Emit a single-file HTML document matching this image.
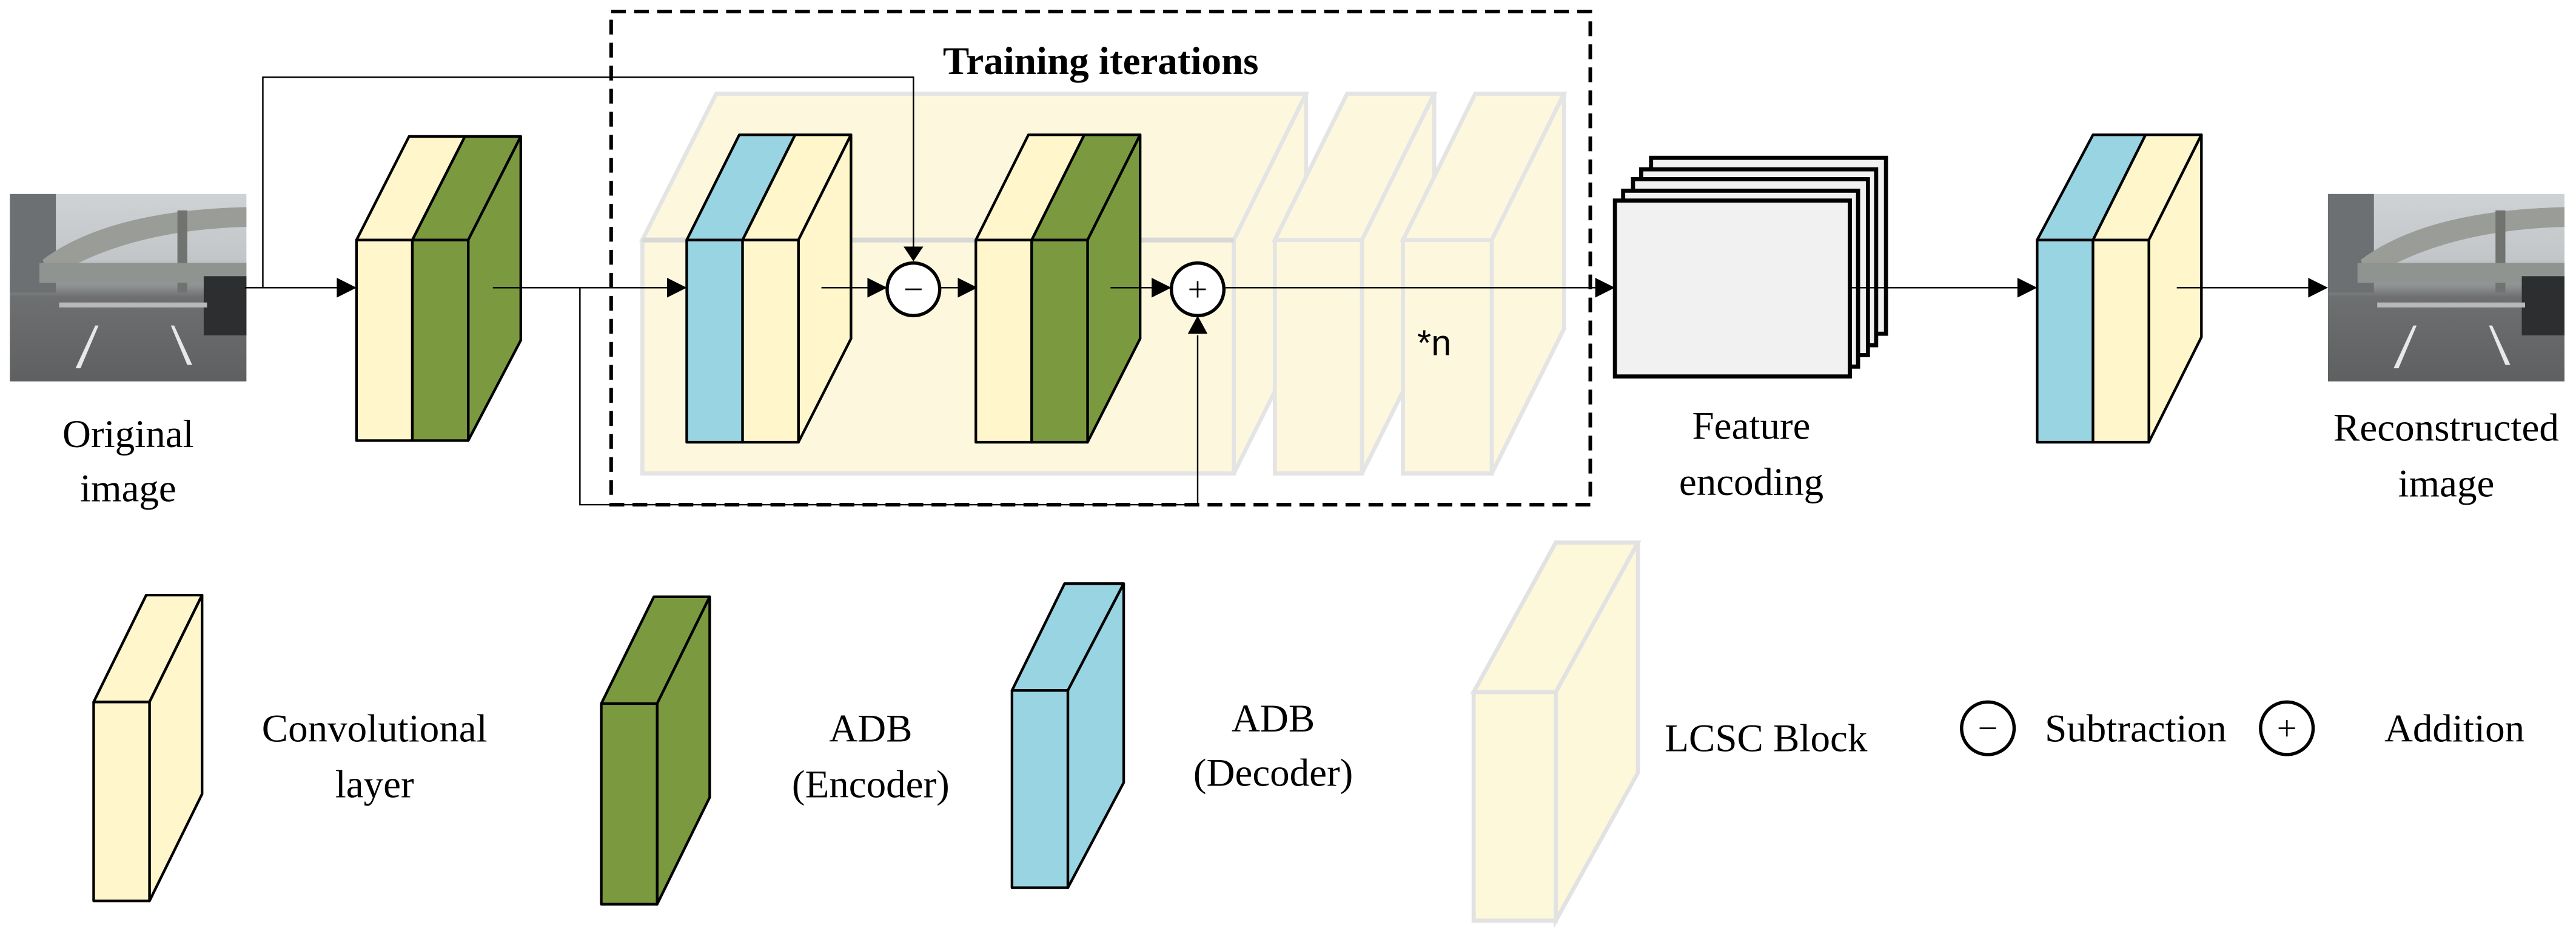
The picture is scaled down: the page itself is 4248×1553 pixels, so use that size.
<!DOCTYPE html>
<html><head><meta charset="utf-8"><style>
html,body{margin:0;padding:0;background:#fff;}
svg{display:block;}
text{font-family:"Liberation Serif",serif;fill:#000;}
</style></head><body>
<svg width="4248" height="1553" viewBox="0 0 1568 573" preserveAspectRatio="none" xmlns="http://www.w3.org/2000/svg">
<defs>
<linearGradient id="ph" x1="0" y1="0" x2="0" y2="1">
<stop offset="0" stop-color="#cfd2d4"/><stop offset="0.35" stop-color="#c2c6c8"/><stop offset="0.5" stop-color="#8a8d8e"/><stop offset="0.55" stop-color="#6d6f70"/><stop offset="1" stop-color="#5e6061"/>
</linearGradient>
<g id="photo">
<rect x="0" y="0" width="144" height="114" fill="url(#ph)"/>
<rect x="0" y="0" width="28" height="60" fill="#6c7073"/>
<path d="M20 40 Q60 10 144 8 L144 20 Q70 22 24 52 Z" fill="#9a9c98"/>
<rect x="102" y="10" width="6" height="50" fill="#70736f"/>
<rect x="18" y="42" width="126" height="12" fill="#8f9490"/>
<rect x="118" y="50" width="26" height="36" fill="#2c2e30"/>
<path d="M40 106 L52 80 L54 80 L43 106 Z" fill="#e8e8e8"/>
<path d="M108 104 L98 80 L100 80 L111 104 Z" fill="#e8e8e8"/>
<rect x="30" y="66" width="90" height="3" fill="#b8b8b8"/>
</g>
</defs>

<!-- Original image -->
<use href="#photo" x="6" y="118" transform="translate(0,0) scale(1,1)"/>
<text x="78" y="272" font-size="24" text-anchor="middle">Original</text>
<text x="78" y="305" font-size="24" text-anchor="middle">image</text>

<!-- LCSC blocks (background) -->
<g fill="#fdf8da" stroke="#e2e2e2" stroke-width="2.5" opacity="0.9">
<polygon points="391,146 436,57 795,57 751,146"/>
<polygon points="751,146 795,57 795,200 751,288"/>
<rect x="391" y="146" width="360" height="142"/>
<polygon points="776,146 820,57 873,57 829,146"/>
<polygon points="829,146 873,57 873,200 829,288"/>
<rect x="776" y="146" width="53" height="142"/>
<polygon points="854,146 898,57 952,57 908,146"/>
<polygon points="908,146 952,57 952,200 908,288"/>
<rect x="854" y="146" width="54" height="142"/>
</g>
<line x1="391" y1="146" x2="751" y2="146" stroke="#d8d8d8" stroke-width="3"/>

<!-- Dashed box -->
<rect x="372" y="7" width="596" height="300" fill="none" stroke="#000" stroke-width="2.2" stroke-dasharray="9,5"/>
<text x="670" y="45" font-size="24" font-weight="bold" text-anchor="middle">Training iterations</text>

<g stroke="#000" stroke-width="1.6" stroke-linejoin="round">
<!-- Block1 -->
<polygon points="217,146 249,83 283,83 251,146" fill="#fff7cb"/>
<polygon points="251,146 283,83 317,83 285,146" fill="#7b9a40"/>
<polygon points="285,146 317,83 317,207 285,268" fill="#7b9a40"/>
<rect x="217" y="146" width="34" height="122" fill="#fff7cb"/>
<rect x="251" y="146" width="34" height="122" fill="#7b9a40"/>
<!-- Decoder+conv inner -->
<polygon points="418,146 450,82 484,82 452,146" fill="#99d4e3"/>
<polygon points="452,146 484,82 518,82 486,146" fill="#fff7cb"/>
<polygon points="486,146 518,82 518,206 486,269" fill="#fff7cb"/>
<rect x="418" y="146" width="34" height="123" fill="#99d4e3"/>
<rect x="452" y="146" width="34" height="123" fill="#fff7cb"/>
<!-- Encoder inner -->
<polygon points="594,146 626,82 660,82 628,146" fill="#fff7cb"/>
<polygon points="628,146 660,82 694,82 662,146" fill="#7b9a40"/>
<polygon points="662,146 694,82 694,206 662,269" fill="#7b9a40"/>
<rect x="594" y="146" width="34" height="123" fill="#fff7cb"/>
<rect x="628" y="146" width="34" height="123" fill="#7b9a40"/>
<!-- Decoder block right -->
<polygon points="1240,146 1274,82 1306,82 1274,146" fill="#99d4e3"/>
<polygon points="1274,146 1306,82 1340,82 1308,146" fill="#fff7cb"/>
<polygon points="1308,146 1340,82 1340,205 1308,269" fill="#fff7cb"/>
<rect x="1240" y="146" width="34" height="123" fill="#99d4e3"/>
<rect x="1274" y="146" width="34" height="123" fill="#fff7cb"/>
</g>
<line x1="372" y1="146" x2="391" y2="146" stroke="#000" stroke-width="0"/>

<!-- Feature encoding stack -->
<g stroke="#000" stroke-width="2.5" fill="#f1f1f1">
<rect x="1005" y="96" width="143" height="107"/>
<rect x="999" y="103" width="143" height="107"/>
<rect x="994" y="109" width="143" height="107"/>
<rect x="988" y="116" width="143" height="107"/>
<rect x="983" y="122" width="143" height="107"/>
</g>
<text x="1066" y="267" font-size="24" text-anchor="middle">Feature</text>
<text x="1066" y="301" font-size="24" text-anchor="middle">encoding</text>

<!-- Reconstructed image -->
<use href="#photo" x="1417" y="118"/>
<text x="1489" y="268" font-size="24" text-anchor="middle">Reconstructed</text>
<text x="1489" y="302" font-size="24" text-anchor="middle">image</text>

<!-- connectors -->
<g stroke="#000" stroke-width="0.9" fill="none">
<line x1="149" y1="175" x2="207" y2="175"/>
<polyline points="160,175 160,47 556,47 556,152"/>
<line x1="300" y1="175" x2="407" y2="175"/>
<polyline points="353,175 353,307 729,307 729,204"/>
<line x1="500" y1="175" x2="529" y2="175"/>
<line x1="572" y1="175" x2="584" y2="175"/>
<line x1="676" y1="175" x2="702" y2="175"/>
<line x1="746" y1="175" x2="973" y2="175"/>
<line x1="1126" y1="175" x2="1230" y2="175"/>
<line x1="1325" y1="175" x2="1407" y2="175"/>
</g>
<g fill="#000">
<polygon points="205,169 217,175 205,181"/>
<polygon points="406,169 418,175 406,181"/>
<polygon points="528,169 540,175 528,181"/>
<polygon points="583,169 595,175 583,181"/>
<polygon points="701,169 713,175 701,181"/>
<polygon points="971,169 983,175 971,181"/>
<polygon points="1228,169 1240,175 1228,181"/>
<polygon points="1405,169 1417,175 1405,181"/>
<polygon points="550,150 562,150 556,159"/>
<polygon points="723,203 735,203 729,192"/>
</g>
<g stroke="#000" stroke-width="2" fill="#fff">
<circle cx="556" cy="176" r="16"/>
<circle cx="729" cy="176" r="16"/>
</g>
<line x1="551" y1="176" x2="561" y2="176" stroke="#000" stroke-width="1"/>
<line x1="724" y1="176" x2="734" y2="176" stroke="#000" stroke-width="1"/>
<line x1="729" y1="171" x2="729" y2="181" stroke="#000" stroke-width="1"/>
<text x="873" y="216" font-size="22" font-family="Liberation Sans, sans-serif" text-anchor="middle" style="font-family:'Liberation Sans',sans-serif">*n</text>

<!-- Legend -->
<g stroke="#000" stroke-width="1.6" stroke-linejoin="round">
<polygon points="57,427 89,362 123,362 91,427" fill="#fff7cb"/>
<polygon points="91,427 123,362 123,483 91,548" fill="#fff7cb"/>
<rect x="57" y="427" width="34" height="121" fill="#fff7cb"/>
<polygon points="366,428 398,363 432,363 400,428" fill="#7b9a40"/>
<polygon points="400,428 432,363 432,485 400,550" fill="#7b9a40"/>
<rect x="366" y="428" width="34" height="122" fill="#7b9a40"/>
<polygon points="616,420 648,355 684,355 650,420" fill="#99d4e3"/>
<polygon points="650,420 684,355 684,476 650,540" fill="#99d4e3"/>
<rect x="616" y="420" width="34" height="120" fill="#99d4e3"/>
</g>
<g fill="#fdf8da" stroke="#e2e2e2" stroke-width="2.5">
<polygon points="897,421 947,330 997,330 947,421"/>
<polygon points="947,421 997,330 997,470 947,560"/>
<rect x="897" y="421" width="50" height="139"/>
</g>
<text x="228" y="451" font-size="24" text-anchor="middle">Convolutional</text>
<text x="228" y="485" font-size="24" text-anchor="middle">layer</text>
<text x="530" y="451" font-size="24" text-anchor="middle">ADB</text>
<text x="530" y="485" font-size="24" text-anchor="middle">(Encoder)</text>
<text x="775" y="445" font-size="24" text-anchor="middle">ADB</text>
<text x="775" y="478" font-size="24" text-anchor="middle">(Decoder)</text>
<text x="1075" y="457" font-size="24" text-anchor="middle">LCSC Block</text>
<circle cx="1210" cy="443" r="16" fill="#fff" stroke="#000" stroke-width="2"/>
<line x1="1205" y1="443" x2="1215" y2="443" stroke="#000" stroke-width="1"/>
<text x="1300" y="451" font-size="24" text-anchor="middle">Subtraction</text>
<circle cx="1392" cy="443" r="16" fill="#fff" stroke="#000" stroke-width="2"/>
<line x1="1387" y1="443" x2="1397" y2="443" stroke="#000" stroke-width="1"/>
<line x1="1392" y1="438" x2="1392" y2="448" stroke="#000" stroke-width="1"/>
<text x="1494" y="451" font-size="24" text-anchor="middle">Addition</text>
</svg>
</body></html>
